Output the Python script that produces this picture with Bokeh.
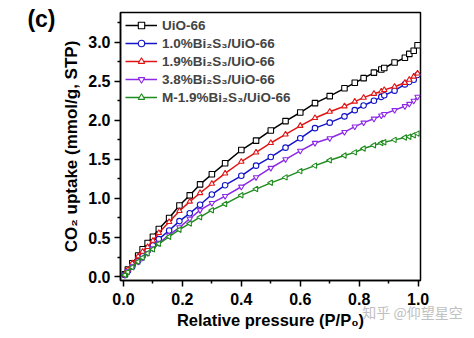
import numpy as np
from bokeh.plotting import figure
from bokeh.models import (Range1d, FixedTicker, Legend, LegendItem, PrintfTickFormatter,
                          LinearAxis)
from bokeh.embed import file_html
from bokeh.resources import INLINE

pressure = [0.005, 0.015, 0.03, 0.05, 0.065, 0.082, 0.1, 0.12, 0.155, 0.19, 0.225, 0.26,
            0.30, 0.345, 0.40, 0.45, 0.50, 0.55, 0.60, 0.65, 0.70, 0.75, 0.785, 0.815,
            0.85, 0.875, 0.885, 0.92, 0.955, 0.97, 0.985, 0.998]

uio66 = [0.03, 0.09, 0.17, 0.27, 0.35, 0.43, 0.51, 0.61, 0.75, 0.91, 1.04, 1.18,
         1.31, 1.45, 1.62, 1.74, 1.87, 1.99, 2.10, 2.22, 2.31, 2.41, 2.48, 2.54,
         2.61, 2.65, 2.67, 2.74, 2.80, 2.85, 2.89, 2.96]
bi10 = [0.02, 0.07, 0.13, 0.20, 0.26, 0.33, 0.40, 0.48, 0.59, 0.71, 0.81, 0.92,
        1.05, 1.17, 1.29, 1.42, 1.53, 1.65, 1.77, 1.90, 1.97, 2.05, 2.13, 2.19,
        2.25, 2.30, 2.32, 2.38, 2.46, 2.49, 2.52, 2.58]
bi19 = [0.03, 0.09, 0.17, 0.26, 0.32, 0.38, 0.46, 0.56, 0.70, 0.84, 0.96, 1.07,
        1.19, 1.32, 1.47, 1.59, 1.71, 1.82, 1.93, 2.03, 2.11, 2.18, 2.24, 2.29,
        2.34, 2.37, 2.39, 2.43, 2.48, 2.52, 2.56, 2.60]
bi38 = [0.02, 0.07, 0.13, 0.19, 0.24, 0.30, 0.36, 0.43, 0.53, 0.63, 0.74, 0.85,
        0.94, 1.03, 1.15, 1.27, 1.39, 1.50, 1.61, 1.71, 1.77, 1.85, 1.92, 1.97,
        2.02, 2.06, 2.08, 2.13, 2.18, 2.21, 2.25, 2.30]
m19 = [0.02, 0.06, 0.12, 0.19, 0.24, 0.30, 0.35, 0.42, 0.51, 0.60, 0.68, 0.76,
       0.85, 0.93, 1.04, 1.12, 1.20, 1.27, 1.35, 1.42, 1.49, 1.55, 1.59, 1.64,
       1.68, 1.71, 1.72, 1.75, 1.78, 1.79, 1.81, 1.83]

labels = ["UiO-66", "1.0%Bi\u2082S\u2083/UiO-66", "1.9%Bi\u2082S\u2083/UiO-66",
          "3.8%Bi\u2082S\u2083/UiO-66", "M-1.9%Bi\u2082S\u2083/UiO-66"]
x_ticks = [0.0, 0.2, 0.4, 0.6, 0.8, 1.0]
x_minor = [0.1, 0.3, 0.5, 0.7, 0.9]
y_ticks = [0.0, 0.5, 1.0, 1.5, 2.0, 2.5, 3.0]
y_minor = [0.25, 0.75, 1.25, 1.75, 2.25, 2.75, 3.25]
panel_tag = "(c)"
watermark = "知乎 @仰望星空"

FONT = "Liberation Sans"

p = figure(width=474, height=338, output_backend="svg", toolbar_location=None,
           x_range=Range1d(-0.01, 1.008), y_range=Range1d(-0.05, 3.38),
           min_border_left=120, min_border_right=54, min_border_top=12, min_border_bottom=58)
p.xgrid.visible = False
p.ygrid.visible = False
p.outline_line_color = "black"
p.outline_line_width = 1.5
p.background_fill_color = "white"
p.border_fill_color = "white"

series = [
    (uio66, "black", "square", 0.0),
    (bi10, "#1414c8", "circle", 0.0),
    (bi19, "#e01414", "triangle", 0.0),
    (bi38, "#8c28e6", "inverted_triangle", 0.0),
    (m19, "#1e8c1e", "triangle", np.pi / 2),
]
items = []
for (vals, color, marker, ang), lab in zip(series, labels):
    r1 = p.line(pressure, vals, line_color=color, line_width=1.5)
    r2 = p.scatter(pressure, vals, marker=marker, angle=ang, size=5.5, line_color=color,
                   fill_color="white", line_width=1.1)
    items.append(LegendItem(label=lab, renderers=[r1, r2]))

legend = Legend(items=items, location="top_left")
legend.label_text_font = FONT
legend.label_text_font_style = "bold"
legend.label_text_font_size = "13.5px"
legend.glyph_width = 32
legend.glyph_height = 16
legend.label_height = 16
legend.spacing = 2
legend.padding = 4
legend.margin = 1
legend.label_standoff = 5
legend.background_fill_alpha = 0
legend.border_line_alpha = 0
p.add_layout(legend)

for ax, ticks, minor in ((p.xaxis, x_ticks, x_minor), (p.yaxis, y_ticks, y_minor)):
    ax.ticker = FixedTicker(ticks=ticks, minor_ticks=minor)
    ax.formatter = PrintfTickFormatter(format="%.1f")
    ax.axis_line_width = 1.5
    ax.major_tick_line_width = 1.5
    ax.minor_tick_line_width = 1.5
    ax.major_tick_out = 6
    ax.major_tick_in = 0
    ax.minor_tick_out = 3
    ax.minor_tick_in = 0
    ax.major_label_text_font = FONT
    ax.major_label_text_font_style = "bold"
    ax.major_label_text_font_size = "16px"
    ax.major_label_text_color = "black"
    ax.axis_label_text_font = FONT
    ax.axis_label_text_font_style = "bold"
    ax.axis_label_text_color = "black"

p.xaxis.axis_label_text_font_size = "16.5px"
p.yaxis.axis_label_text_font_size = "17px"
p.xaxis.axis_label = "Relative pressure (P/P\u2080)"
p.yaxis.axis_label = "CO\u2082 uptake (mmol/g, STP)"
p.xaxis.major_label_standoff = 6
p.yaxis.major_label_standoff = 4
p.xaxis.axis_label_standoff = 3
p.yaxis.axis_label_standoff = 4

# panel tag "(c)" as the single label of an invisible outer left axis
tag_axis = LinearAxis(ticker=FixedTicker(ticks=[3.3], minor_ticks=[]),
                      major_label_overrides={3.3: panel_tag})
# watermark as the single label of an invisible outer bottom axis
wm_axis = LinearAxis(ticker=FixedTicker(ticks=[0.981], minor_ticks=[]),
                     major_label_overrides={0.981: watermark})
for ax in (tag_axis, wm_axis):
    ax.axis_line_color = None
    ax.major_tick_line_color = None
    ax.minor_tick_line_color = None
    ax.major_tick_out = 0
    ax.major_tick_in = 0
    ax.minor_tick_out = 0
    ax.minor_tick_in = 0
tag_axis.major_label_text_font = FONT
tag_axis.major_label_text_font_style = "bold"
tag_axis.major_label_text_font_size = "23px"
tag_axis.major_label_text_color = "black"
tag_axis.major_label_standoff = 4
wm_axis.major_label_text_font = "Noto Sans CJK SC"
wm_axis.major_label_text_font_size = "14px"
wm_axis.major_label_text_color = "#c0c0c0"
wm_axis.major_label_standoff = -30
p.add_layout(tag_axis, "left")
p.add_layout(wm_axis, "below")

open("out.html", "w").write(file_html(p, INLINE))
